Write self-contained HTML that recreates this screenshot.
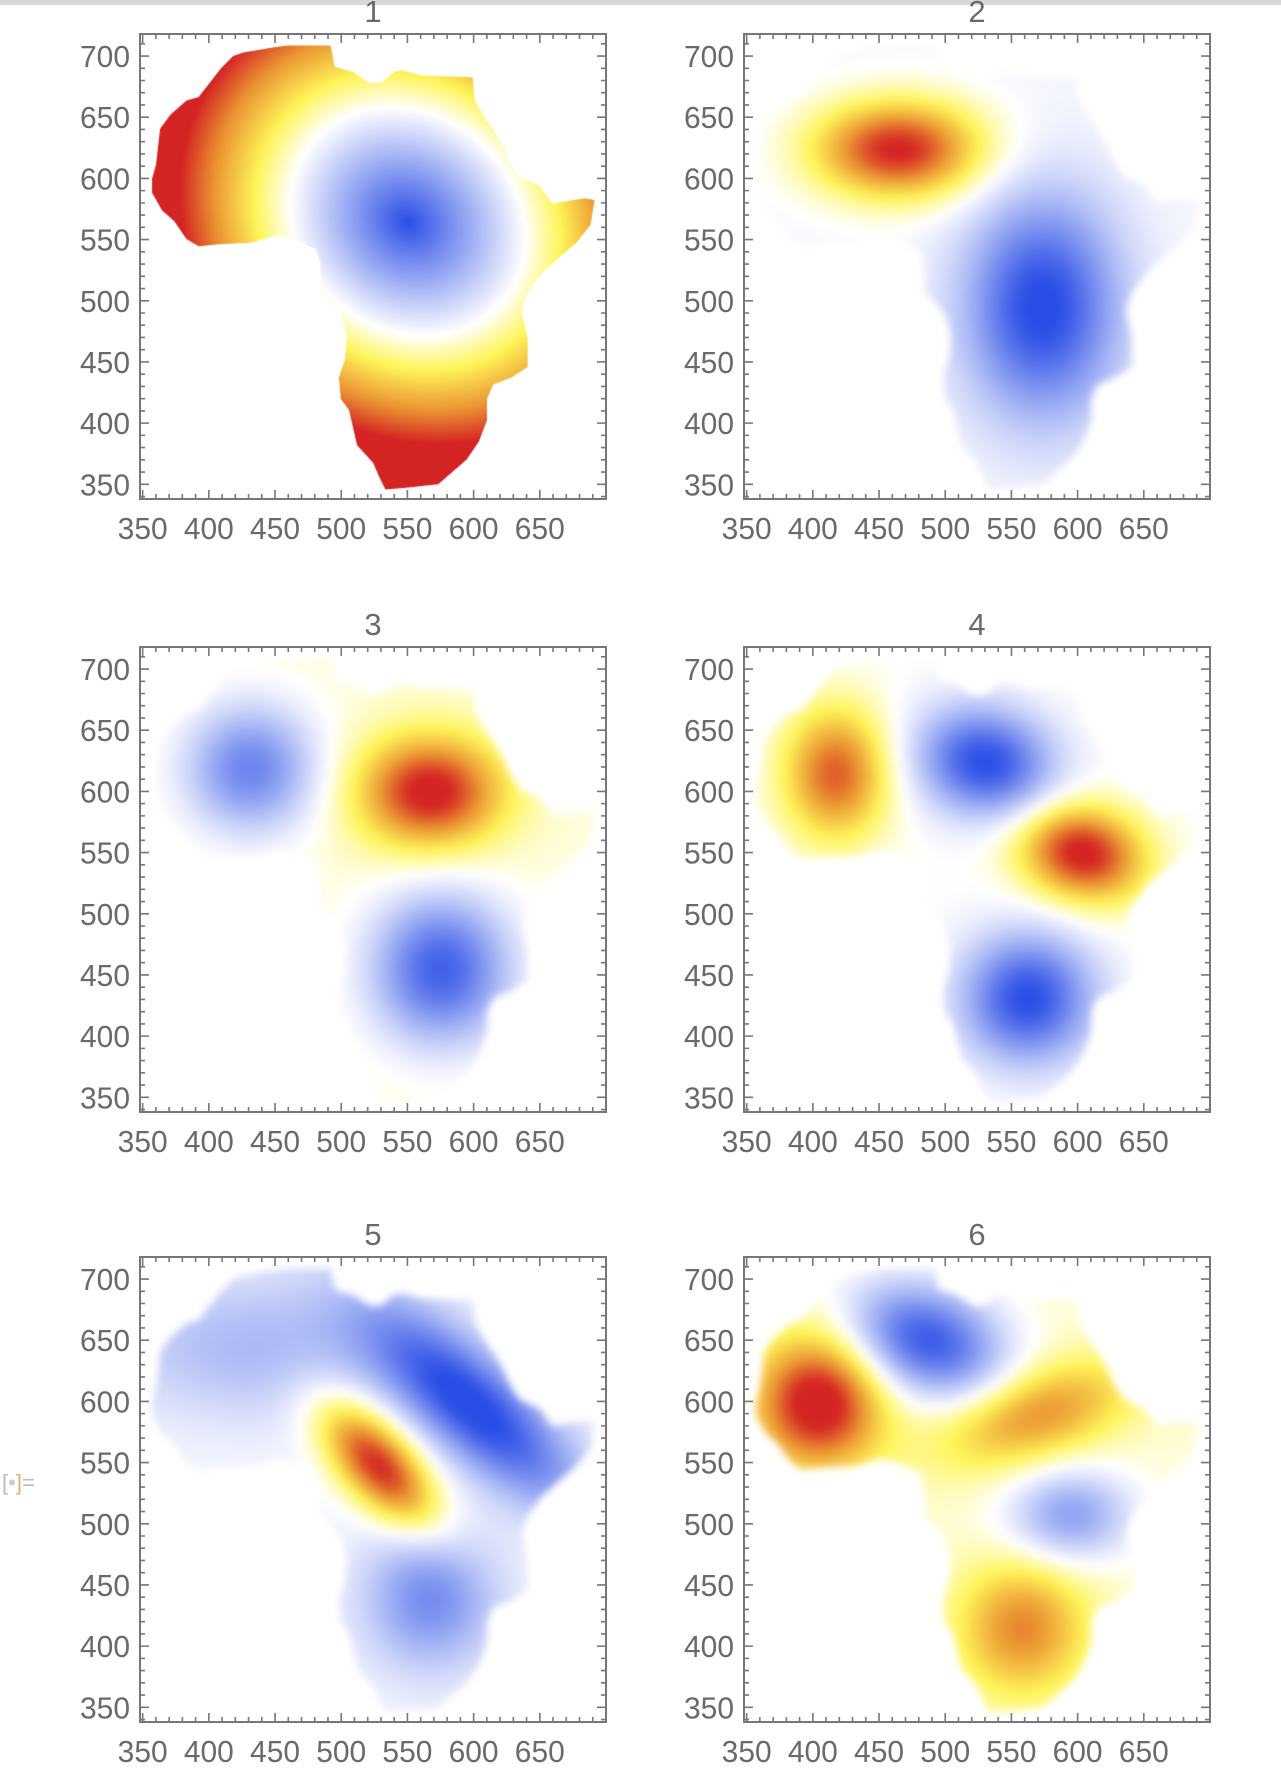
<!DOCTYPE html>
<html><head><meta charset="utf-8">
<style>
html,body{margin:0;padding:0;background:#fff;}
body{width:1281px;height:1779px;position:relative;overflow:hidden;font-family:"Liberation Sans",sans-serif;}
.topbar{position:absolute;left:0;top:0;width:1281px;height:5px;background:#d8d8d8;}
.panel{position:absolute;}
canvas{position:absolute;}
svg{position:absolute;left:0;top:0;overflow:visible;}
.lbl{position:absolute;left:2px;top:1470px;font-size:22px;color:#bbb;}
</style></head>
<body>
<div class="topbar"></div>
<div class="lbl">[<span style="color:#ccc">•</span><span style="color:#e0b080">]</span>=</div>
<div id="root"></div>
<script>
// Africa outline in data coordinates
const outlineX = [392.3,409.2,418.4,426,450.6,459.8,492,495.1,508.9,521.2,530.4,539.6,545.7,561,599.4,600.9,607.1,616.3,622.4,627,634.7,650,659.2,683.7,691.4,688.3,677.6,665.3,653.1,640.8,636.2,640.8,640.8,628.5,614.7,610.1,610.1,604,594.8,573.3,548.8,533.4,528.8,524.2,512,508.9,505.8,499.7,498.2,502.8,504.3,499.7,493.6,484.4,484.4,481.3,462.9,450.6,432.2,407.7,392.3,383.1,373.9,364.7,357.1,357.1,360.1,363.2,370.9,383.1];
const outlineY = [666.6,690,700,702.9,707.3,708.7,708.7,691.3,686.9,678.2,678.2,686.9,688.4,684,682.6,663.7,652.1,637.6,625.9,614.3,601.2,594,579.5,583.8,582.4,562,547.5,535.9,524.3,506.9,492.3,469.1,445.9,437.2,431.3,419.7,402.3,384.9,370.3,350,347.1,345.7,355.8,367.4,381.9,396.5,411,419.7,437.2,451.7,472,489.4,496.7,506.9,530.1,541.7,550.4,553.3,547.5,546.1,544.6,550.4,564.9,573.7,588.2,599.8,611.4,640.5,652.1,663.7];
// per-panel mode data (lobes)
const panelTitles = ["1","2","3","4","5","6"];
const modeProfile = ["cone","gauss","gauss","gauss","gauss","gauss"];
const modeBase = [1.0,-0.04,0.06,0.0,-0.05,0.07];
const lobeCx = [[550],[464,573],[431,567,575],[417,530,603,562],[440,600,528,567],[404,486,568,594,558]];
const lobeCy = [[565],[624,495],[619,600,455],[615,624,550,431],[645,595,548,440],[599,650,590,507,415]];
const lobeAmp = [[-2.0],[1.0,-1.0],[-0.75,0.95,-0.95],[0.8,-1.0,1.0,-1.0],[-0.35,-1.0,1.0,-0.6],[1.0,-1.0,0.6,-0.6,0.62]];
const lobeSx = [[195],[45,40],[34,38,36],[28,36,34,34],[80,72,44,34],[34,42,52,32,34]];
const lobeSy = [[168],[28,62],[36,32,42],[38,30,27,36],[40,26,20,40],[38,30,26,26,38]];
const lobeAng = [[-55],[0,0],[0,0,0],[0,-20,-20,0],[0,-45,-52,0],[0,-25,20,0,0]];
const xTicks = [350,400,450,500,550,600,650];
const yTicks = [350,400,450,500,550,600,650,700];

const X0=348,X1=700,Y0=338,Y1=718,W=466,H=465;
const colLeft=[140,744], rowTop=[34,647,1257];
const sx=v=>(v-X0)/(X1-X0)*W, sy=v=>(Y1-v)/(Y1-Y0)*H;
const NS="http://www.w3.org/2000/svg";
function lerp(a,b,t){return a+(b-a)*t;}
function cmap(v){
  v=Math.max(-1,Math.min(1,v));
  if(v<0){const t=-v;return [lerp(255,42,t),lerp(255,77,t),lerp(255,230,t)];}
  const st=[[0,255,255,255],[0.3,255,245,90],[0.65,235,150,50],[0.95,212,35,35],[1,212,35,35]];
  for(let i=0;i<st.length-1;i++){if(v<=st[i+1][0]){const t=(v-st[i][0])/(st[i+1][0]-st[i][0]);return [lerp(st[i][1],st[i+1][1],t),lerp(st[i][2],st[i+1][2],t),lerp(st[i][3],st[i+1][3],t)];}}
  return [212,35,35];
}
const root=document.getElementById('root');
panelTitles.forEach((title,p)=>{
  const L=colLeft[p%2],T=rowTop[Math.floor(p/2)];
  const div=document.createElement('div');div.className='panel';
  
  
  div.style.left=L+'px';div.style.top=T+'px';div.style.width=W+'px';div.style.height=H+'px';
  const cv=document.createElement('canvas');cv.width=W;cv.height=H;
  
  
  if(p>0)cv.style.filter='blur(4px)';
  div.appendChild(cv);
  const ctx=cv.getContext('2d');
  const img=ctx.createImageData(W,H);
  const n=lobeCx[p].length;
  const ca=lobeAng[p].map(a=>Math.cos(a*Math.PI/180)),sa=lobeAng[p].map(a=>Math.sin(a*Math.PI/180));
  const cone=modeProfile[p]==="cone";
  for(let py=0;py<H;py++){const y=Y1-py/H*(Y1-Y0);
    for(let px=0;px<W;px++){const x=X0+px/W*(X1-X0);
      let v=modeBase[p];
      for(let k=0;k<n;k++){const dx=x-lobeCx[p][k],dy=y-lobeCy[p][k];
        const u=dx*ca[k]+dy*sa[k],w=-dx*sa[k]+dy*ca[k];
        const r2=u*u/(lobeSx[p][k]**2)+w*w/(lobeSy[p][k]**2);
        v+=lobeAmp[p][k]*(cone?Math.max(0,1-Math.sqrt(r2)):Math.exp(-0.5*r2));}
      const c=cmap(v),i=(py*W+px)*4;img.data[i]=c[0];img.data[i+1]=c[1];img.data[i+2]=c[2];img.data[i+3]=255;}}
  const off=document.createElement('canvas');off.width=W;off.height=H;off.getContext('2d').putImageData(img,0,0);
  ctx.beginPath();outlineX.forEach((ox,i)=>{const a=sx(ox),b=sy(outlineY[i]);i?ctx.lineTo(a,b):ctx.moveTo(a,b);});ctx.closePath();
  ctx.save();ctx.clip();ctx.drawImage(off,0,0);ctx.restore();
  const svg=document.createElementNS(NS,'svg');svg.setAttribute('width',W);svg.setAttribute('height',H);
  
  
  const rect=document.createElementNS(NS,'rect');rect.setAttribute('x',0);rect.setAttribute('y',0);rect.setAttribute('width',W);rect.setAttribute('height',H);
  rect.setAttribute('fill','none');rect.setAttribute('stroke','#777');rect.setAttribute('stroke-width','2');
  
  
  svg.appendChild(rect);
  let d='';
  for(let v=350;v<=700;v+=10){const a=sx(v),len=(v%50===0)?9:5;d+=`M${a} ${H}v${-len}M${a} 0v${len}`;}
  for(let v=340;v<=710;v+=10){const b=sy(v),len=(v%50===0)?9:5;d+=`M0 ${b}h${len}M${W} ${b}h${-len}`;}
  const tk=document.createElementNS(NS,'path');tk.setAttribute('d',d);tk.setAttribute('stroke','#777');tk.setAttribute('stroke-width','1.6');
  
  
  svg.appendChild(tk);
  xTicks.forEach(v=>{const t=document.createElementNS(NS,'text');t.textContent=v;
    t.setAttribute('x',sx(v));t.setAttribute('y',H+40);t.setAttribute('text-anchor','middle');
    t.setAttribute('font-size','31');t.setAttribute('fill','#6a6a6a');t.setAttribute('textLength','50');t.setAttribute('lengthAdjust','spacingAndGlyphs');
    
    
    svg.appendChild(t);});
  yTicks.forEach(v=>{const t=document.createElementNS(NS,'text');t.textContent=v;
    t.setAttribute('x',-60);t.setAttribute('y',sy(v)+11);
    t.setAttribute('font-size','31');t.setAttribute('fill','#6a6a6a');t.setAttribute('textLength','50');t.setAttribute('lengthAdjust','spacingAndGlyphs');
    
    
    svg.appendChild(t);});
  const tt=document.createElementNS(NS,'text');tt.textContent=title;
  tt.setAttribute('x',W/2);tt.setAttribute('y',-12);tt.setAttribute('text-anchor','middle');
  tt.setAttribute('font-size','31');tt.setAttribute('fill','#6a6a6a');
  
  
  svg.appendChild(tt);
  div.appendChild(svg);
  root.appendChild(div);
});
</script>
</body></html>
